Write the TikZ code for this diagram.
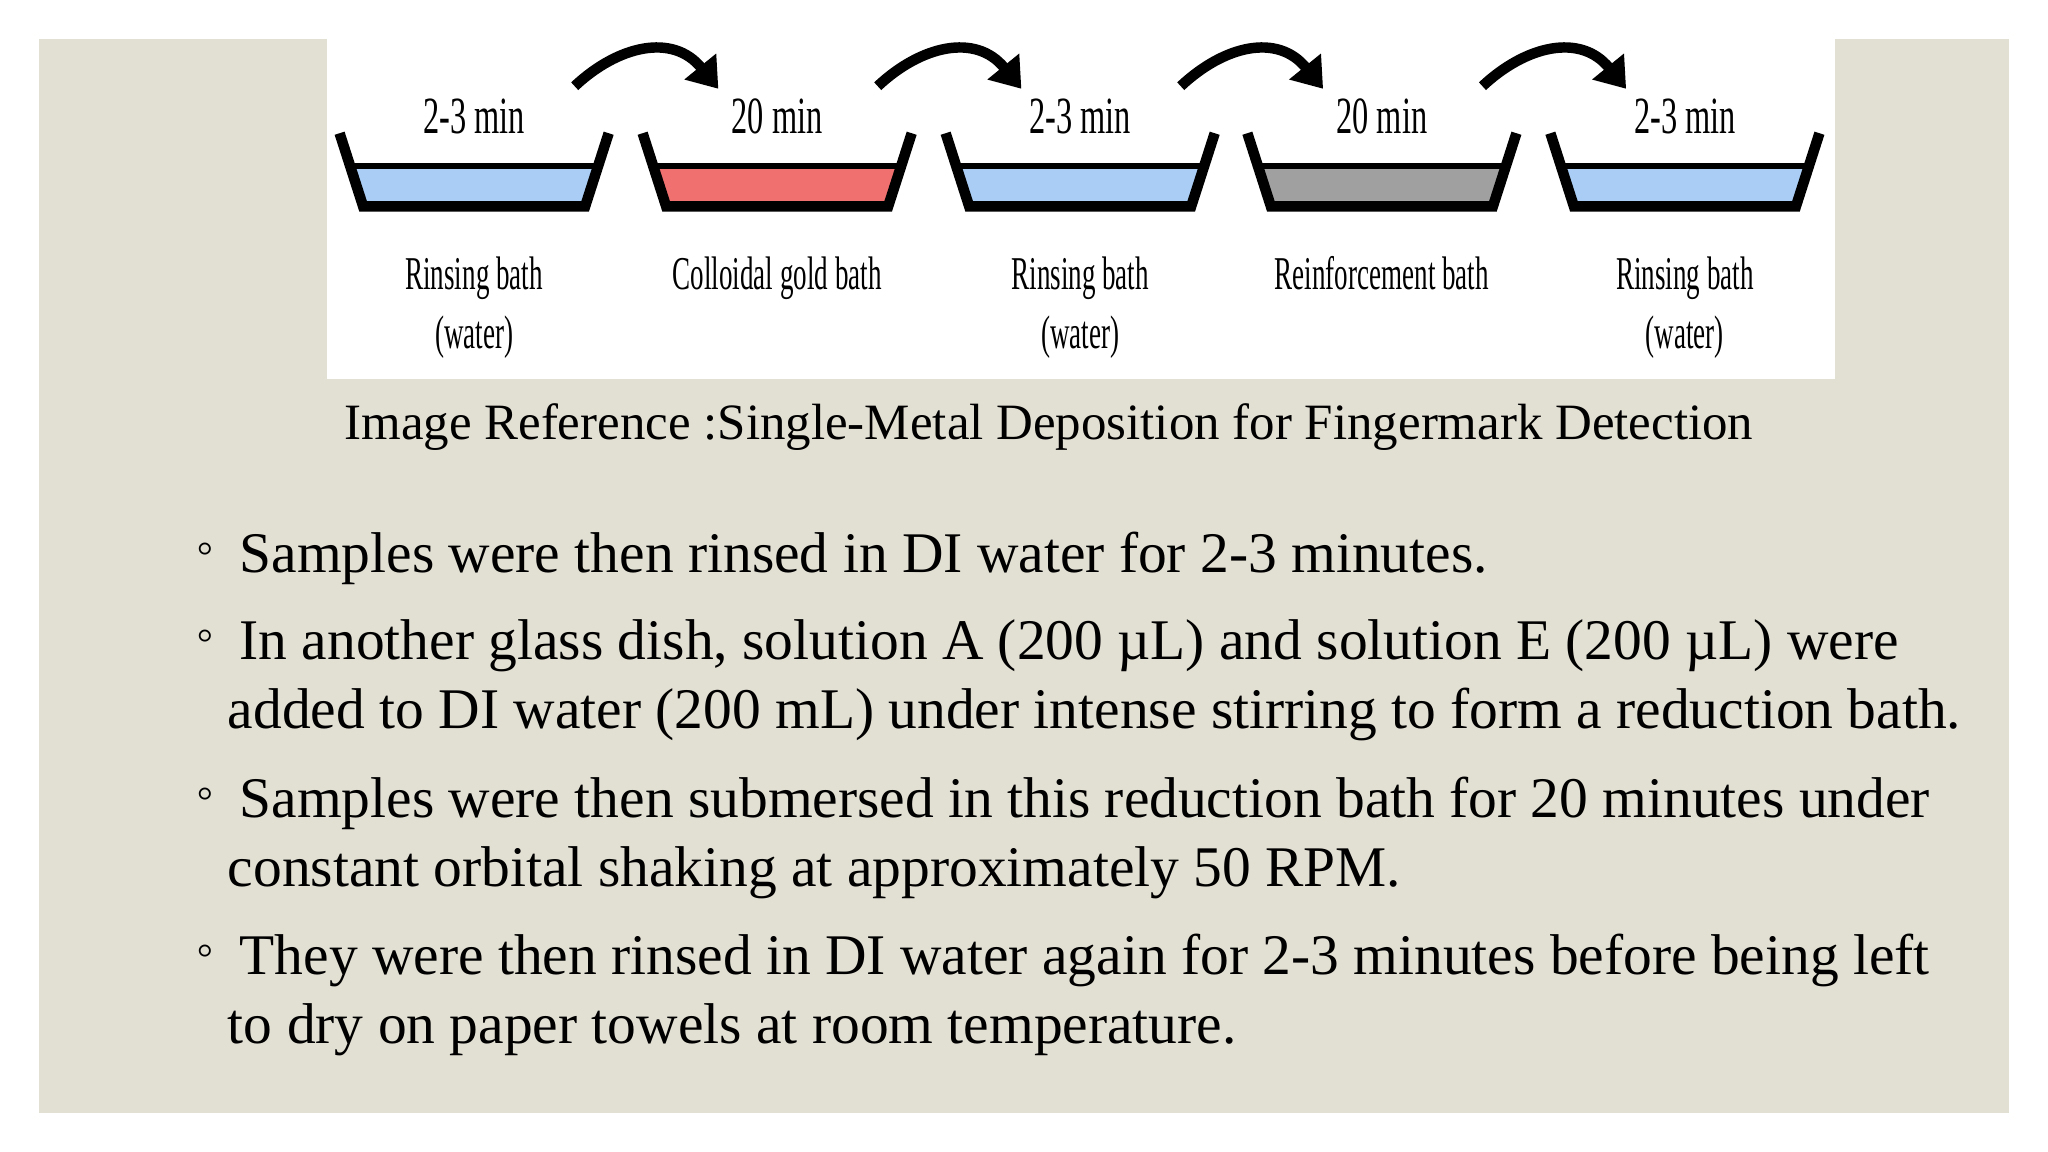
\documentclass[tikz,border=0pt]{standalone}
\usepackage{fontspec}
\setmainfont{Liberation Serif}
\usetikzlibrary{arrows.meta}
\definecolor{bg}{HTML}{E2DFD3}
\definecolor{water}{HTML}{A9CDF5}
\definecolor{gold}{HTML}{F07070}
\definecolor{reinf}{HTML}{A0A0A0}
\tikzset{
 tim/.style={font=\fontsize{40}{44}\selectfont, xscale=0.62},
 lab/.style={font=\fontsize{36}{45}\selectfont, xscale=0.575, align=center},
 bul/.style={font=\fontsize{44}{53}\selectfont, anchor=base west},
 arr/.style={line width=8pt, -{Triangle[length=22pt,width=30pt]}},
}
\begin{document}
\begin{tikzpicture}[x=1pt,y=-1pt]
\useasboundingbox (0,0) rectangle (1568,882);
\fill[white] (0,0) rectangle (1568,882);
\fill[bg] (30,30) rectangle (1538,852);
\fill[white] (250,30) rectangle (1405,290);
\foreach \cx/\col/\t/\l [count=\i] in {363/water/2-3 min/{Rinsing bath\\(water)},595/gold/20 min/{Colloidal gold bath\\\strut},827/water/2-3 min/{Rinsing bath\\(water)},1058/reinf/20 min/{Reinforcement bath\\\strut},1290/water/2-3 min/{Rinsing bath\\(water)}}{
  \fill[\col] (\cx-95,127) -- (\cx+95,127) -- (\cx+85,157) -- (\cx-85,157) -- cycle;
  \draw[line width=5pt] (\cx-95,127) -- (\cx+95,127);
  \draw[line width=8pt, line join=miter] (\cx-103,102) -- (\cx-85,158) -- (\cx+85,158) -- (\cx+103,102);
  \node[tim] (t\i) at (\cx,89) {\t};
  \node[lab, anchor=north] (l\i) at (\cx,193) {\l};
}
\foreach \a/\b in {363/595,595/827,827/1058,1058/1290}{
  \coordinate (s) at (\a+77,66);
  \coordinate (e) at (\b-45,68);
  \draw[arr] (s) .. controls (\a+110,35) and (\b-80,25) .. (e);
}
\node[font=\fontsize{39}{40}\selectfont] (cap) at (803,327) {Image Reference :Single-Metal Deposition for Fingermark Detection};
\foreach \y/\t [count=\i] in {438/{\hspace{12pt}Samples were then rinsed in DI water for 2-3 minutes.},
  505/{\hspace{12pt}In another glass dish, solution A (200 µL) and solution E (200 µL) were},
  626/{\hspace{12pt}Samples were then submersed in this reduction bath for 20 minutes under},
  746/{\hspace{12pt}They were then rinsed in DI water again for 2-3 minutes before being left}}{
  \node[font=\fontsize{38}{38}\selectfont, anchor=base] (b\i) at (157,\y-6) {◦};
  \node[bul] (p\i) at (168,\y) {\t};
}
\node[bul] (q2) at (171,558) {added to DI water (200 mL) under intense stirring to form a reduction bath.};
\node[bul] (q3) at (171,679) {constant orbital shaking at approximately 50 RPM.};
\node[bul] (q4) at (171,799) {to dry on paper towels at room temperature.};
\end{tikzpicture}
\end{document}
